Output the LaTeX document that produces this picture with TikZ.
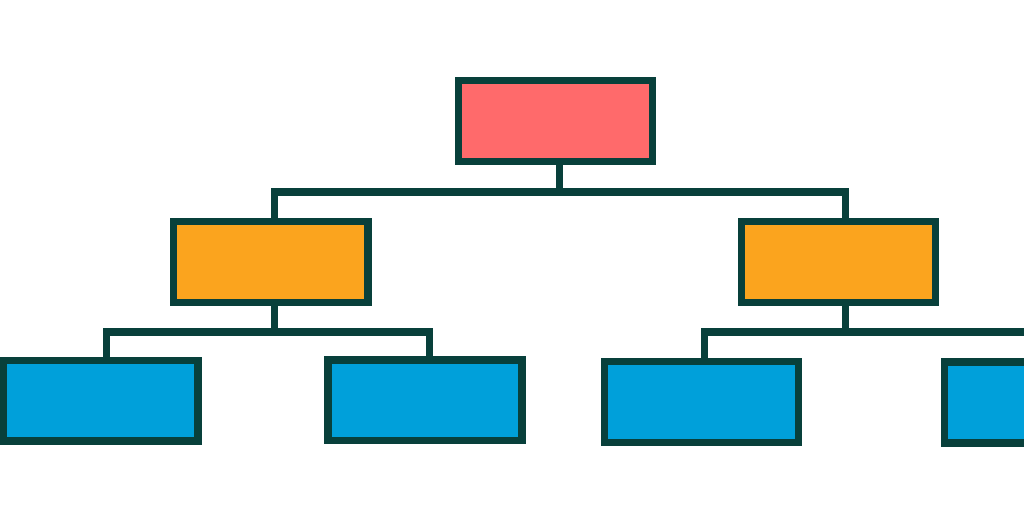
\documentclass[tikz,border=0pt]{standalone}
\usepackage{tikz}
\usepackage{xcolor}
\definecolor{edgegreen}{HTML}{08403B}
\definecolor{headred}{HTML}{FF6A6B}
\definecolor{leadorange}{HTML}{FBA41E}
\definecolor{leafblue}{HTML}{00A0DA}
\begin{document}
\begin{tikzpicture}[x=0.5pt,y=-0.5pt]
        \tikzstyle{every node}+=[inner sep=0pt]
        \tikzstyle{box}=[draw=edgegreen, line width=3.65pt, minimum width=97.1pt, minimum height=40.4pt]
        \tikzstyle{link}=[draw=edgegreen, line width=3.65pt, line join=miter]
        \useasboundingbox (0,0) rectangle (1024,512);
        % boxes
        \node [box, fill=headred] (head) at (555.5,121) {};
        \node [box, fill=leadorange] (leadL) at (270.8,262) {};
        \node [box, fill=leadorange] (leadR) at (838.5,262) {};
        \node [box, fill=leafblue] (leaf1) at (100.8,400.7) {};
        \node [box, fill=leafblue] (leaf2) at (425,400.3) {};
        \node [box, fill=leafblue] (leaf3) at (701.7,402) {};
        \node [box, fill=leafblue] (leaf4) at (1041.8,402.5) {};
        % junctions
        \coordinate (barA) at (559.7,192);
        \coordinate (barL) at (274.7,332);
        \coordinate (barR) at (845.3,332);
        % links
        \draw [link] (head.south -| barA) -- (barA);
        \draw [link] (leadL.north -| barL) |- (barA) -| (leadR.north -| barR);
        \draw [link] (leadL.south -| barL) -- (barL);
        \draw [link] ([xshift=2.75pt]leaf1.north) |- (barL) -| ([xshift=2.35pt]leaf2.north);
        \draw [link] (leadR.south -| barR) -- (barR);
        \draw [link] ([xshift=1.3pt]leaf3.north) |- (barR) -| ([xshift=2.2pt]leaf4.north);
\end{tikzpicture}
\end{document}
